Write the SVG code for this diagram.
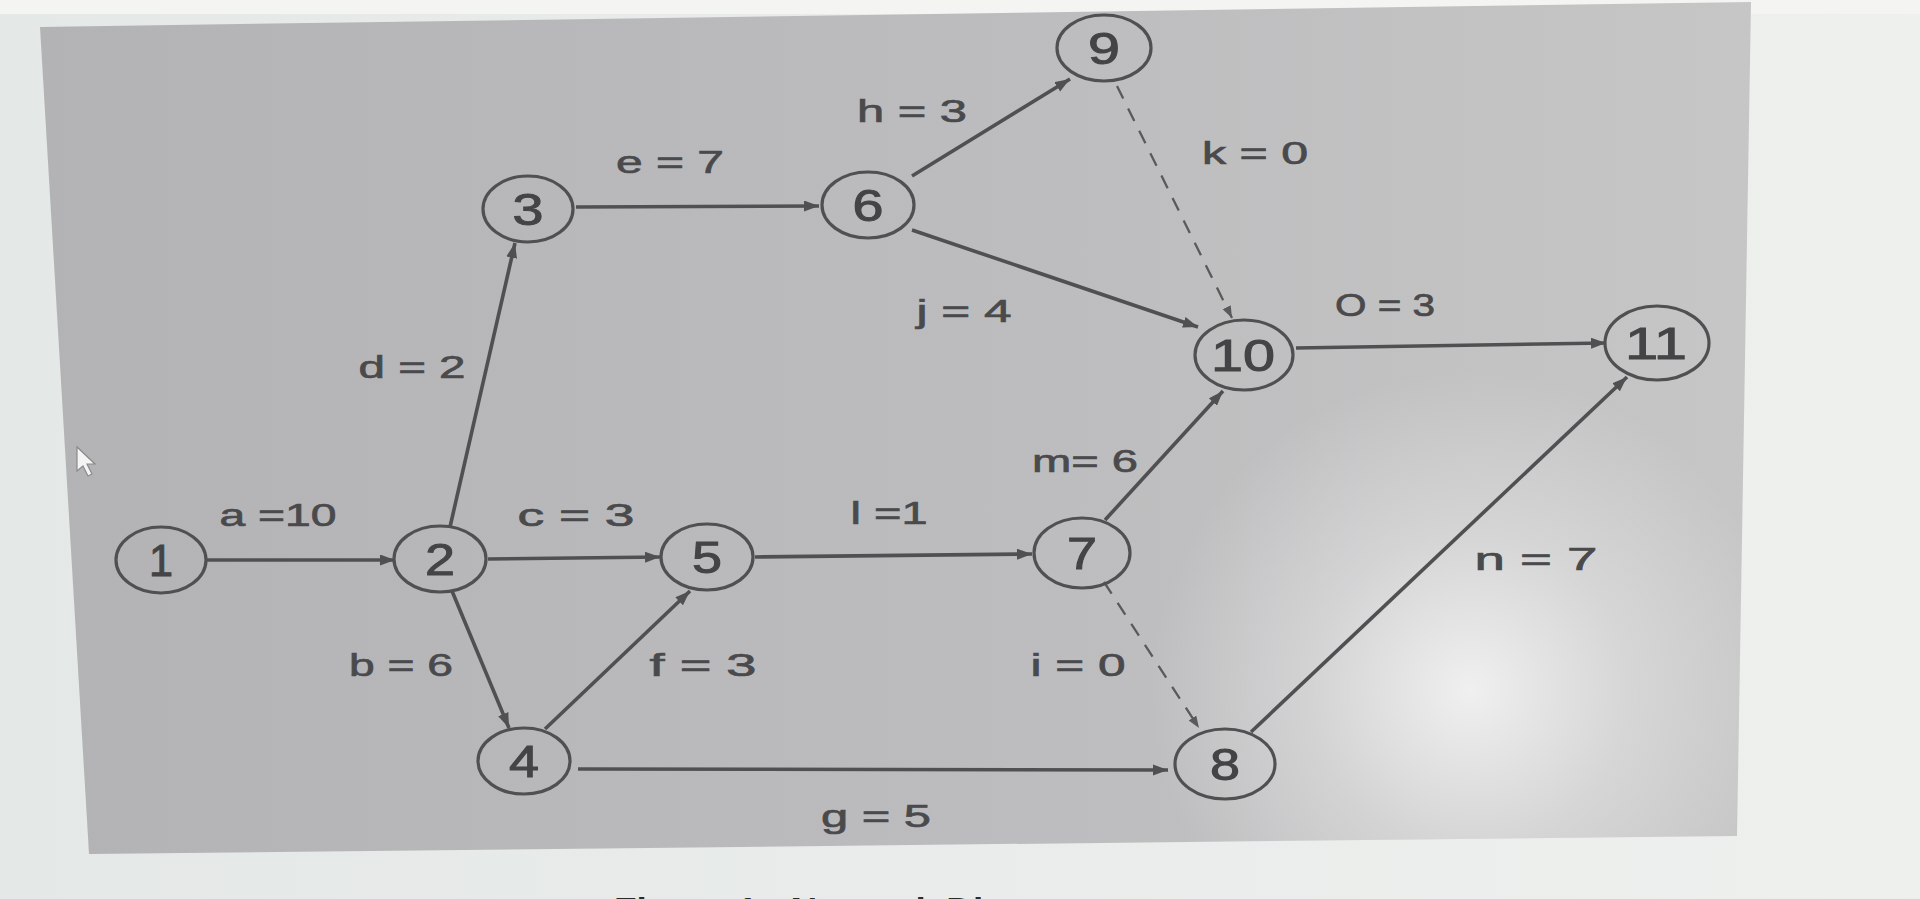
<svg xmlns="http://www.w3.org/2000/svg" width="1920" height="899" viewBox="0 0 1920 899">
  <defs>
    <linearGradient id="bg" x1="0" y1="0" x2="1" y2="0">
      <stop offset="0" stop-color="#e4e8e6"/>
      <stop offset="1" stop-color="#eef0ee"/>
    </linearGradient>
    <linearGradient id="panel" x1="0" y1="0" x2="1" y2="0">
      <stop offset="0" stop-color="#b3b3b5"/>
      <stop offset="0.6" stop-color="#bdbdbf"/>
      <stop offset="1" stop-color="#c6c6c6"/>
    </linearGradient>
    <radialGradient id="glare" cx="1470" cy="690" r="320" gradientUnits="userSpaceOnUse">
      <stop offset="0" stop-color="#ffffff" stop-opacity="0.75"/>
      <stop offset="0.5" stop-color="#ffffff" stop-opacity="0.3"/>
      <stop offset="1" stop-color="#ffffff" stop-opacity="0"/>
    </radialGradient>
    <marker id="arr" markerUnits="userSpaceOnUse" markerWidth="17" markerHeight="12" refX="15" refY="5.5" orient="auto">
      <path d="M0,0 L15,5.5 L0,11 z" fill="#505052"/>
    </marker>
    <marker id="arrs" markerUnits="userSpaceOnUse" markerWidth="14" markerHeight="10" refX="12" refY="4.5" orient="auto">
      <path d="M0,0 L12,4.5 L0,9 z" fill="#5a5a5c"/>
    </marker>
    <style>
      .node ellipse { fill: none; stroke: #505052; stroke-width: 3.2; }
      .node text { font-family: "Liberation Sans", Arial, sans-serif; font-size: 44px; fill: #444446; stroke: #444446; stroke-width: 1; text-anchor: middle; }
      .edge { stroke: #505052; stroke-width: 3.6; fill: none; marker-end: url(#arr); }
      .dash { stroke: #5a5a5c; stroke-width: 2.3; fill: none; stroke-dasharray: 14 11; marker-end: url(#arrs); }
      .lbl { font-family: "Liberation Sans", Arial, sans-serif; font-size: 32px; fill: #4a4a4c; stroke: #4a4a4c; stroke-width: 0.7; text-anchor: middle; }
      .cap { font-family: "Liberation Sans", Arial, sans-serif; font-size: 34px; font-weight: bold; fill: #2a2a2a; }
    </style>
  </defs>

  <rect x="0" y="0" width="1920" height="899" fill="url(#bg)"/>
  <rect x="0" y="0" width="1920" height="14" fill="#f4f4f2"/>
  <polygon points="40,27 1751,2 1737,836 89,854" fill="url(#panel)"/>
  <polygon points="40,27 1751,2 1737,836 89,854" fill="url(#glare)"/>

  <!-- mouse cursor -->
  <polygon points="77,447 77,471 83,466 88,476 92,474 87,464 95,464" fill="#f4f4f4" stroke="#8a8a8a" stroke-width="1.2"/>

  <g id="connectors">
    <line id="a" class="edge" x1="207" y1="560" x2="395" y2="560"/>
    <line id="c" class="edge" x1="488" y1="559" x2="660" y2="557"/>
    <line id="l" class="edge" x1="755" y1="557" x2="1032" y2="554"/>
    <line id="b" class="edge" x1="452" y1="591" x2="509" y2="728"/>
    <line id="d" class="edge" x1="450" y1="527" x2="515" y2="243"/>
    <line id="f" class="edge" x1="545" y1="729" x2="690" y2="591"/>
    <line id="g" class="edge" x1="578" y1="769" x2="1168" y2="770"/>
    <line id="e" class="edge" x1="576" y1="207" x2="819" y2="206"/>
    <line id="h" class="edge" x1="912" y1="176" x2="1070" y2="79"/>
    <line id="j" class="edge" x1="912" y1="230" x2="1198" y2="327"/>
    <line id="k" class="dash" x1="1117" y1="86" x2="1232" y2="318"/>
    <line id="m" class="edge" x1="1105" y1="520" x2="1223" y2="391"/>
    <line id="i" class="dash" x1="1104" y1="582" x2="1199" y2="728"/>
    <line id="n" class="edge" x1="1251" y1="732" x2="1627" y2="377"/>
    <line id="o" class="edge" x1="1296" y1="348" x2="1606" y2="343"/>
  </g>

  <g id="labels">
    <text class="lbl" x="278" y="526" textLength="117" lengthAdjust="spacingAndGlyphs">a =10</text>
    <text class="lbl" x="576" y="526" textLength="117" lengthAdjust="spacingAndGlyphs">c = 3</text>
    <text class="lbl" x="889" y="524" textLength="77" lengthAdjust="spacingAndGlyphs">l =1</text>
    <text class="lbl" x="401" y="676" textLength="104" lengthAdjust="spacingAndGlyphs">b = 6</text>
    <text class="lbl" x="703" y="676" textLength="107" lengthAdjust="spacingAndGlyphs">f = 3</text>
    <text class="lbl" x="876" y="827" textLength="110" lengthAdjust="spacingAndGlyphs">g = 5</text>
    <text class="lbl" x="412" y="378" textLength="107" lengthAdjust="spacingAndGlyphs">d = 2</text>
    <text class="lbl" x="670" y="173" textLength="108" lengthAdjust="spacingAndGlyphs">e = 7</text>
    <text class="lbl" x="912" y="122" textLength="110" lengthAdjust="spacingAndGlyphs">h = 3</text>
    <text class="lbl" x="964" y="322" textLength="95" lengthAdjust="spacingAndGlyphs">j = 4</text>
    <text class="lbl" x="1255" y="164" textLength="106" lengthAdjust="spacingAndGlyphs">k = 0</text>
    <text class="lbl" x="1385" y="316" textLength="100" lengthAdjust="spacingAndGlyphs">O = 3</text>
    <text class="lbl" x="1085" y="472" textLength="106" lengthAdjust="spacingAndGlyphs">m= 6</text>
    <text class="lbl" x="1536" y="570" textLength="123" lengthAdjust="spacingAndGlyphs">n = 7</text>
    <text class="lbl" x="1078" y="676" textLength="95" lengthAdjust="spacingAndGlyphs">i = 0</text>
  </g>

  <g id="n1" class="node"><ellipse cx="161" cy="560" rx="45" ry="33"/><text x="161" y="576" textLength="24" lengthAdjust="spacingAndGlyphs">1</text></g>
  <g id="n2" class="node"><ellipse cx="440" cy="559" rx="46" ry="33"/><text x="440" y="575" textLength="30" lengthAdjust="spacingAndGlyphs">2</text></g>
  <g id="n3" class="node"><ellipse cx="528" cy="209" rx="45" ry="33"/><text x="528" y="225" textLength="31" lengthAdjust="spacingAndGlyphs">3</text></g>
  <g id="n4" class="node"><ellipse cx="524" cy="761" rx="46" ry="33"/><text x="524" y="777" textLength="30" lengthAdjust="spacingAndGlyphs">4</text></g>
  <g id="n5" class="node"><ellipse cx="707" cy="557" rx="46" ry="33"/><text x="707" y="573" textLength="30" lengthAdjust="spacingAndGlyphs">5</text></g>
  <g id="n6" class="node"><ellipse cx="868" cy="205" rx="46" ry="33"/><text x="868" y="221" textLength="31" lengthAdjust="spacingAndGlyphs">6</text></g>
  <g id="n7" class="node"><ellipse cx="1082" cy="553" rx="48" ry="35"/><text x="1082" y="569" textLength="30" lengthAdjust="spacingAndGlyphs">7</text></g>
  <g id="n8" class="node"><ellipse cx="1225" cy="764" rx="50" ry="35"/><text x="1225" y="780" textLength="30" lengthAdjust="spacingAndGlyphs">8</text></g>
  <g id="n9" class="node"><ellipse cx="1104" cy="48" rx="47" ry="33"/><text x="1104" y="64" textLength="32" lengthAdjust="spacingAndGlyphs">9</text></g>
  <g id="n10" class="node"><ellipse cx="1244" cy="355" rx="49" ry="35"/><text x="1243" y="371" textLength="64" lengthAdjust="spacingAndGlyphs">10</text></g>
  <g id="n11" class="node"><ellipse cx="1657" cy="343" rx="52" ry="37"/><text x="1656" y="359" textLength="62" lengthAdjust="spacingAndGlyphs">11</text></g>

  <text class="cap" x="614" y="921" textLength="480" lengthAdjust="spacingAndGlyphs">Figure 1 - Network Diagram</text>
</svg>
